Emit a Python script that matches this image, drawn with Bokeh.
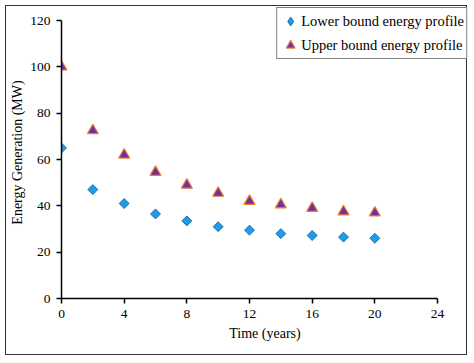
import math
from bokeh.plotting import figure
from bokeh.models import Range1d, FixedTicker, Legend, LegendItem, ColumnDataSource
from bokeh.embed import file_html
from bokeh.resources import INLINE

years = [0, 2, 4, 6, 8, 10, 12, 14, 16, 18, 20]
lower_bound = [65, 47, 41, 36.5, 33.5, 31, 29.5, 28, 27.2, 26.5, 26]
upper_bound = [100, 72.5, 62, 54.5, 49, 45.5, 42, 40.5, 39, 37.5, 37]
x_ticks = [0, 4, 8, 12, 16, 20, 24]
y_ticks = [0, 20, 40, 60, 80, 100, 120]
x_max = 24
y_max = 120

FONT = "Liberation Serif"

W, H = 462, 350
LEFT, BOTTOM = 55, 58
axis_px_x, axis_px_y = 376, 278
frame_px_x, frame_px_y = W - LEFT, H - BOTTOM

p = figure(width=W, height=H, output_backend="svg", toolbar_location=None,
           x_range=Range1d(0, x_max * frame_px_x / axis_px_x),
           y_range=Range1d(0, y_max * frame_px_y / axis_px_y),
           min_border_left=LEFT, min_border_right=0, min_border_top=0, min_border_bottom=BOTTOM)
p.styles = {"border": "1px solid #333", "margin-left": "5px", "margin-top": "5px"}
p.outline_line_color = None
p.xgrid.grid_line_color = None
p.ygrid.grid_line_color = None
p.background_fill_color = "white"
p.border_fill_color = "white"

for ax in (p.xaxis[0], p.yaxis[0]):
    ax.axis_line_color = "black"
    ax.axis_line_width = 1.5
    ax.major_tick_line_color = "black"
    ax.major_tick_line_width = 1.5
    ax.major_tick_out = 5
    ax.major_tick_in = 0
    ax.minor_tick_line_color = None
    ax.major_label_text_font = FONT
    ax.major_label_text_font_size = "13.5px"
    ax.major_label_text_color = "black"
    ax.axis_label_text_font = FONT
    ax.axis_label_text_font_size = "14px"
    ax.axis_label_text_font_style = "normal"
    ax.axis_label_text_color = "black"

p.xaxis[0].ticker = FixedTicker(ticks=x_ticks)
p.yaxis[0].ticker = FixedTicker(ticks=y_ticks)
p.xaxis[0].bounds = (0, x_max)
p.yaxis[0].bounds = (0, y_max)
p.xaxis[0].axis_label = "Time (years)"
p.yaxis[0].axis_label = "Energy Generation (MW)"
p.xaxis[0].major_label_standoff = 6
p.yaxis[0].major_label_standoff = 6
p.xaxis[0].axis_label_standoff = 5
p.yaxis[0].axis_label_standoff = 2

src = ColumnDataSource(dict(x=years, lo=lower_bound, hi=upper_bound))
r_lo = p.scatter("x", "lo", source=src, marker="square", angle=math.pi / 4, size=7,
                 fill_color="#1f9ce4", line_color="#1a6fb0", line_width=1)
r_hi = p.scatter("x", "hi", source=src, marker="triangle", size=11,
                 fill_color="#7030a0", line_color="#ed7d31", line_width=1.2)
# legend-only swatch for the diamond series (legend glyphs ignore marker angle);
# its single point is NaN, so nothing is drawn in the plot area
key_src = ColumnDataSource(dict(x=[float("nan")], y=[float("nan")]))
r_lo_key = p.scatter("x", "y", source=key_src, marker="diamond",
                     fill_color="#1f9ce4", line_color="#1a6fb0", line_width=1)

legend = Legend(items=[LegendItem(label="Lower bound energy profile", renderers=[r_lo_key]),
                       LegendItem(label="Upper bound energy profile", renderers=[r_hi])],
                location="top_right")
legend.label_text_font = FONT
legend.label_text_font_size = "14.5px"
legend.label_text_color = "black"
legend.border_line_color = "black"
legend.border_line_width = 1
legend.background_fill_alpha = 1
legend.padding = 2
legend.spacing = 2
legend.margin = 1
legend.glyph_width = 22
legend.glyph_height = 22
legend.label_height = 22
legend.label_standoff = 0
p.add_layout(legend, "center")

open("out.html", "w").write(file_html(p, INLINE))
